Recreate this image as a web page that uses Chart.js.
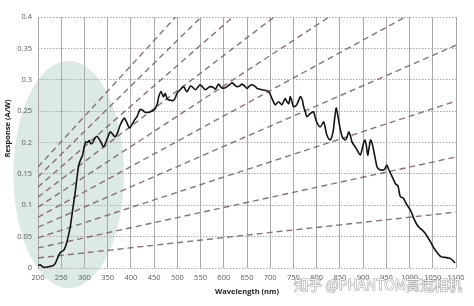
<!DOCTYPE html>
<html>
<head>
<meta charset="utf-8">
<script src="https://cdn.jsdelivr.net/npm/chart.js@4"></script>
<style>
  html, body { margin: 0; padding: 0; background: #fff; }
  canvas { display: block; }
</style>
</head>
<body>
<canvas id="myChart" width="474" height="306"></canvas>
<script>
// tick labels
const xTicks = [200, 250, 300, 350, 400, 450, 500, 550, 600, 650, 700, 750, 800, 850, 900, 950, 1000, 1050, 1100];
const yTicks = [0, 0.05, 0.1, 0.15, 0.2, 0.25, 0.3, 0.35, 0.4];

// measured responsivity curve (nm, A/W)
const wavelength = [200, 205, 210, 215, 222, 230, 236, 240, 245, 250, 255, 260, 265, 270, 275, 280, 285, 288, 292, 296,
  300, 303, 307, 310, 314, 318, 322, 327, 332, 336, 341, 346, 351, 356, 361, 366, 371, 377, 382, 386,
  391, 397, 402, 408, 413, 420, 426, 431, 437, 442, 448, 453, 457, 460, 465, 470, 474, 478, 481, 487,
  492, 496, 499, 506, 510, 514, 518, 521, 525, 528, 533, 539, 544, 549, 555, 560, 566, 571, 577, 582,
  586, 589, 593, 596, 602, 607, 612, 618, 623, 628, 634, 639, 645, 650, 655, 661, 668, 672, 678, 682,
  690, 697, 704, 711, 718, 725, 732, 736, 740, 743, 747, 750, 757, 765, 769, 772, 776, 779, 786, 793,
  797, 801, 808, 815, 818, 822, 829, 833, 836, 839, 842, 845, 849, 855, 862, 866, 869, 873, 876, 882,
  887, 894, 898, 901, 904, 907, 910, 913, 916, 919, 922, 926, 930, 935, 941, 946, 951, 955, 959, 966,
  970, 975, 980, 987, 991, 995, 1002, 1006, 1009, 1016, 1023, 1028, 1034, 1040, 1045, 1050, 1055, 1061, 1066, 1072,
  1077, 1083, 1088, 1093, 1098];
const response = [0.004, 0.005, 0.002, 0.001, 0.002, 0.003, 0.006, 0.012, 0.021, 0.026, 0.028, 0.036, 0.05, 0.068, 0.095, 0.12, 0.15, 0.165, 0.173, 0.18,
  0.195, 0.201, 0.2, 0.203, 0.198, 0.2, 0.206, 0.21, 0.205, 0.2, 0.193, 0.2, 0.21, 0.217, 0.213, 0.209, 0.215, 0.228, 0.235, 0.239,
  0.232, 0.223, 0.228, 0.236, 0.241, 0.253, 0.251, 0.248, 0.248, 0.249, 0.251, 0.255, 0.262, 0.273, 0.281, 0.273, 0.278, 0.27, 0.268, 0.267,
  0.267, 0.272, 0.278, 0.284, 0.287, 0.289, 0.283, 0.281, 0.286, 0.29, 0.288, 0.284, 0.288, 0.292, 0.288, 0.284, 0.287, 0.289, 0.288, 0.285,
  0.29, 0.293, 0.289, 0.287, 0.287, 0.289, 0.292, 0.295, 0.292, 0.289, 0.29, 0.293, 0.29, 0.286, 0.29, 0.292, 0.289, 0.286, 0.285, 0.284,
  0.283, 0.281, 0.27, 0.26, 0.265, 0.26, 0.27, 0.265, 0.262, 0.273, 0.265, 0.257, 0.26, 0.273, 0.268, 0.257, 0.248, 0.241, 0.246, 0.249,
  0.24, 0.231, 0.225, 0.233, 0.225, 0.212, 0.204, 0.21, 0.22, 0.24, 0.255, 0.245, 0.228, 0.209, 0.204, 0.21, 0.217, 0.21, 0.201, 0.194,
  0.188, 0.18, 0.19, 0.199, 0.204, 0.195, 0.18, 0.192, 0.204, 0.2, 0.19, 0.175, 0.161, 0.157, 0.156, 0.157, 0.164, 0.157, 0.151, 0.14,
  0.134, 0.131, 0.114, 0.111, 0.105, 0.1, 0.092, 0.085, 0.079, 0.069, 0.063, 0.06, 0.055, 0.048, 0.042, 0.035, 0.029, 0.023, 0.019, 0.017,
  0.017, 0.016, 0.015, 0.012, 0.008];

// iso-QE guide lines (10%..100%): response at 200 nm and at 1100 nm
const qeAt200 = [0.016, 0.032, 0.048, 0.065, 0.081, 0.097, 0.113, 0.129, 0.145, 0.161];
const qeAt1100 = [0.089, 0.177, 0.266, 0.355, 0.444, 0.532, 0.621, 0.710, 0.798, 0.887];

// highlighted UV region (data units)
const uvZone = { x: 266, y: 0.149, rx: 119, ry: 0.181 };

const FONT = "'Open Sans', 'DejaVu Sans', sans-serif";

const datasets = [{
  label: 'Response',
  data: wavelength.map((w, i) => ({ x: w, y: response[i] })),
  borderColor: '#151515',
  borderWidth: 1.6,
  pointRadius: 0,
  showLine: true,
  tension: 0.25,
  order: 0,
}];

qeAt200.forEach((v, i) => {
  datasets.push({
    label: 'QE ' + (i + 1) * 10 + '%',
    data: [{ x: 200, y: v }, { x: 1100, y: qeAt1100[i] }],
    borderColor: 'rgba(128,98,108,0.9)',
    borderWidth: 1.4,
    borderDash: [6, 4],
    pointRadius: 0,
    showLine: true,
    order: 1,
  });
});

// background ellipse + y title + watermark
const extras = {
  id: 'extras',
  beforeDraw(chart) {
    const ctx = chart.ctx;
    const xs = chart.scales.x, ys = chart.scales.y;
    const cx = xs.getPixelForValue(uvZone.x);
    const cy = ys.getPixelForValue(uvZone.y);
    const rx = xs.getPixelForValue(uvZone.x + uvZone.rx) - cx;
    const ry = cy - ys.getPixelForValue(uvZone.y + uvZone.ry);
    ctx.save();
    ctx.fillStyle = '#dde9e3';
    ctx.beginPath();
    ctx.ellipse(cx, cy, rx, ry, 0, 0, Math.PI * 2);
    ctx.fill();
    ctx.restore();
  },
  afterDraw(chart) {
    const ctx = chart.ctx;
    const a = chart.chartArea;
    ctx.save();
    ctx.translate(8, (a.top + a.bottom) / 2 - 14);
    ctx.rotate(-Math.PI / 2);
    ctx.font = 'bold 7.5px ' + FONT;
    ctx.fillStyle = '#222';
    ctx.textAlign = 'center';
    ctx.textBaseline = 'middle';
    ctx.fillText('Response (A/W)', 0, 0);
    ctx.restore();

    ctx.save();
    ctx.font = "14px 'Noto Sans CJK SC', sans-serif";
    ctx.textAlign = 'right';
    ctx.textBaseline = 'middle';
    ctx.lineWidth = 1;
    ctx.strokeStyle = 'rgba(120,120,120,0.75)';
    ctx.fillStyle = 'rgba(255,255,255,0.95)';
    ctx.strokeText('知乎 @PHANTOM高速相机', 462, 285);
    ctx.fillText('知乎 @PHANTOM高速相机', 462, 285);
    ctx.restore();
  }
};

const config = {
  type: 'scatter',
  data: { datasets: datasets },
  options: {
    responsive: false,
    animation: false,
    layout: { padding: { left: 0, right: 18, top: 17, bottom: 0 } },
    plugins: {
      legend: { display: false },
      tooltip: { enabled: false },
    },
    scales: {
      x: {
        type: 'linear',
        min: 200,
        max: 1100,
        afterBuildTicks: (s) => { s.ticks = xTicks.map(v => ({ value: v })); },
        afterFit: (s) => { s.height = 38; },
        grid: { color: '#a9a9a9', lineWidth: 1, drawTicks: false },
        border: { display: false },
        ticks: {
          color: '#5a5a5a',
          font: { family: FONT, size: 7.5 },
          padding: 5,
          maxRotation: 0,
          autoSkip: false,
          callback: (v) => String(v),
        },
        title: {
          display: true,
          text: 'Wavelength (nm)',
          color: '#222',
          font: { family: FONT, size: 7.5, weight: 'bold' },
          padding: { top: 0, bottom: 10 },
        },
      },
      y: {
        min: 0,
        max: 0.4,
        afterBuildTicks: (s) => { s.ticks = yTicks.map(v => ({ value: v })); },
        afterFit: (s) => { s.width = 38; },
        grid: { color: '#a8a8a8', lineWidth: 1, drawTicks: false },
        border: { display: false, dash: [1.5, 1.5] },
        ticks: {
          color: '#5a5a5a',
          font: { family: FONT, size: 7.5 },
          padding: 6,
          callback: (v) => String(+v.toFixed(2)),
        },
      },
    },
  },
  plugins: [extras],
};

var ctx = document.getElementById('myChart').getContext('2d');
var myChart = new Chart(ctx, config);
</script>
</body>
</html>
